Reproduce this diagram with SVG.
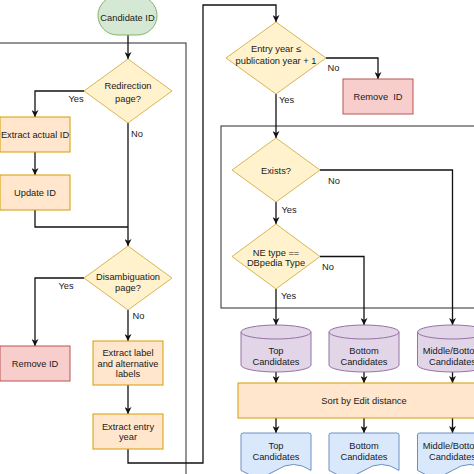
<svg xmlns="http://www.w3.org/2000/svg" width="474" height="474" viewBox="0 0 474 474">
<defs>
<style>
text{font-family:"Liberation Sans",Arial,Helvetica,sans-serif;font-size:9.3px;fill:#1a1a1a;text-anchor:middle}
.cont{fill:none;stroke:#2a2a2a;stroke-width:1}
.edge{fill:none;stroke:#111;stroke-width:1.3}
.arr{marker-end:url(#ah)}
.term{fill:#d5e8d4;stroke:#82b366;stroke-width:1}
.dec{fill:#fff2cc;stroke:#d6b656;stroke-width:1}
.proc{fill:#ffe6cc;stroke:#d79b00;stroke-width:1}
.rem{fill:#f8cecc;stroke:#b85450;stroke-width:1}
.db{fill:#e1d5e7;stroke:#9673a6;stroke-width:1}
.doc{fill:#dae8fc;stroke:#6c8ebf;stroke-width:1}
</style>
<marker id="ah" viewBox="0 0 10 10" refX="10" refY="5" markerWidth="7" markerHeight="7" markerUnits="userSpaceOnUse" orient="auto">
<path d="M0,0 L10,5 L0,10 L3,5 z" fill="#111"/>
</marker>
</defs>

<g id="containers">
<rect class="cont" x="-10" y="43" width="196" height="450"/>
<rect class="cont" x="221" y="126" width="280" height="182"/>
</g>

<g id="connectors">
<path class="edge arr" d="M128,35 V59"/>
<path class="edge arr" d="M84,91 H35 V117"/>
<path class="edge arr" d="M35,152 V175"/>
<path class="edge" d="M35,210 V227 H128"/>
<path class="edge arr" d="M128,123 V246"/>
<path class="edge arr" d="M84,278 H35 V346"/>
<path class="edge arr" d="M128,310 V341"/>
<path class="edge arr" d="M128,385 V414"/>
<path class="edge arr" d="M128,449 V463 H203 V5 H276 V22"/>
<path class="edge arr" d="M326,58 H378 V79"/>
<path class="edge arr" d="M276,94 V138"/>
<path class="edge arr" d="M320,170 H452.5 V325"/>
<path class="edge arr" d="M276,202 V224"/>
<path class="edge arr" d="M320,256.5 H364 V325"/>
<path class="edge arr" d="M276,289 V325"/>
<path class="edge arr" d="M276,372 V383"/>
<path class="edge arr" d="M364,372 V383"/>
<path class="edge arr" d="M452.5,372 V383"/>
<path class="edge arr" d="M276,418 V433"/>
<path class="edge arr" d="M364,418 V433"/>
<path class="edge arr" d="M452.5,418 V433"/>
<text x="76" y="102.3">Yes</text>
<text x="137" y="137.3">No</text>
<text x="66" y="289.3">Yes</text>
<text x="138.5" y="319.3">No</text>
<text x="333.5" y="70.7">No</text>
<text x="286.5" y="103">Yes</text>
<text x="334" y="184.3">No</text>
<text x="289" y="212.5">Yes</text>
<text x="328" y="270.3">No</text>
<text x="288.5" y="299.3">Yes</text>
</g>

<g id="candidate-id">
<rect class="term" x="98" y="-4" width="59" height="39" rx="19.5"/>
<text x="127.5" y="21.3">Candidate ID</text>
</g>

<g id="redirection">
<polygon class="dec" points="128,59 172,91 128,123 84,91"/>
<text x="128" y="89.3">Redirection</text>
<text x="128" y="101.8">page?</text>
</g>

<g id="extract-actual-id">
<rect class="proc" x="0" y="117" width="70" height="35"/>
<text x="35" y="137.8">Extract actual ID</text>
</g>

<g id="update-id">
<rect class="proc" x="0" y="175" width="70" height="35"/>
<text x="35" y="195.8">Update ID</text>
</g>

<g id="disambiguation">
<polygon class="dec" points="128,246 172,278 128,310 84,278"/>
<text x="128" y="280.3">Disambiguation</text>
<text x="128" y="291.3">page?</text>
</g>

<g id="remove-id-left">
<rect class="rem" x="0" y="346" width="70" height="35"/>
<text x="35" y="366.8">Remove ID</text>
</g>

<g id="extract-label">
<rect class="proc" x="93" y="341" width="70" height="44"/>
<text x="128" y="356">Extract label</text>
<text x="128" y="367">and alternative</text>
<text x="128" y="377.3">labels</text>
</g>

<g id="extract-entry-year">
<rect class="proc" x="93" y="414" width="70" height="35"/>
<text x="128" y="429.6">Extract entry</text>
<text x="128" y="440.3">year</text>
</g>

<g id="entry-year">
<polygon class="dec" points="276,22 326,58 276,94 226,58"/>
<text x="276" y="52.3">Entry year ≤</text>
<text x="276" y="64.3">publication year + 1</text>
</g>

<g id="remove-id-right">
<rect class="rem" x="343" y="79" width="70" height="35"/>
<text x="378" y="100" xml:space="preserve">Remove  ID</text>
</g>

<g id="exists">
<polygon class="dec" points="276,138 320,170 276,202 232,170"/>
<text x="276" y="174">Exists?</text>
</g>

<g id="ne-type">
<polygon class="dec" points="276,224 320,256.5 276,289 232,256.5"/>
<text x="276" y="256.3">NE type ==</text>
<text x="276" y="266.3">DBpedia Type</text>
</g>

<g id="db-top">
<path class="db" d="M241,332 A35,7 0 0 1 311,332 V365 A35,7 0 0 1 241,365 Z"/>
<path class="db" d="M241,332 A35,7 0 0 0 311,332"/>
<text x="276" y="354.3">Top</text>
<text x="276" y="365.3">Candidates</text>
</g>

<g id="db-bottom">
<path class="db" d="M329,332 A35,7 0 0 1 399,332 V365 A35,7 0 0 1 329,365 Z"/>
<path class="db" d="M329,332 A35,7 0 0 0 399,332"/>
<text x="364" y="354.3">Bottom</text>
<text x="364" y="365.3">Candidates</text>
</g>

<g id="db-middle-bottom">
<path class="db" d="M417.5,332 A35,7 0 0 1 487.5,332 V365 A35,7 0 0 1 417.5,365 Z"/>
<path class="db" d="M417.5,332 A35,7 0 0 0 487.5,332"/>
<text x="452.5" y="354.3">Middle/Bottom</text>
<text x="452.5" y="365.3">Candidates</text>
</g>

<g id="sort">
<rect class="proc" x="238" y="383" width="252" height="35"/>
<text x="364" y="403.8">Sort by Edit distance</text>
</g>

<g id="doc-top">
<path class="doc" d="M243,433 H309 Q311,433 311,435 V470.4 Q293.5,458.5 276,470.4 Q258.5,482.3 241,470.4 V435 Q241,433 243,433 Z"/>
<text x="276" y="448.8">Top</text>
<text x="276" y="459.8">Candidates</text>
</g>

<g id="doc-bottom">
<path class="doc" d="M331,433 H397 Q399,433 399,435 V470.4 Q381.5,458.5 364,470.4 Q346.5,482.3 329,470.4 V435 Q329,433 331,433 Z"/>
<text x="364" y="448.8">Bottom</text>
<text x="364" y="459.8">Candidates</text>
</g>

<g id="doc-middle-bottom">
<path class="doc" d="M419.5,433 H485.5 Q487.5,433 487.5,435 V470.4 Q470,458.5 452.5,470.4 Q435,482.3 417.5,470.4 V435 Q417.5,433 419.5,433 Z"/>
<text x="452.5" y="448.8">Middle/Bottom</text>
<text x="452.5" y="459.8">Candidates</text>
</g>
</svg>
